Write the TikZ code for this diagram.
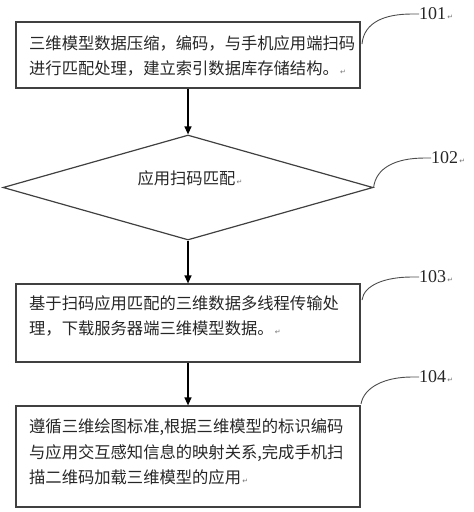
\documentclass[tikz,border=0pt]{standalone}
\usepackage{fontspec}
\setmainfont{Liberation Serif}
\newfontfamily\cjk{Noto Sans CJK SC}
\newfontfamily\symb{DejaVu Sans}
\usetikzlibrary{shapes.geometric,arrows.meta}
\newcommand{\retmark}{{\symb\fontsize{7pt}{7pt}\selectfont\color{black!55}\,↵}}
\begin{document}
\begin{tikzpicture}[x=1pt,y=-1pt,
  boxstyle/.style={draw=black!75,line width=1.2pt,rectangle,inner sep=0,minimum width=344pt},
  decstyle/.style={draw=black!75,line width=1.2pt,diamond,inner sep=0,minimum width=370pt,minimum height=105pt},
  bodytext/.style={font=\cjk\fontsize{16.3pt}{25.5pt}\selectfont,align=left,anchor=north west,inner sep=0,text=black!85},
  flow/.style={draw=black,line width=1.3pt,-{Triangle[length=8pt,width=7pt]}},
  leader/.style={draw=black!70,line width=0.9pt},
  numlabel/.style={font=\fontsize{18pt}{18pt}\selectfont,anchor=west,inner sep=0,text=black!85}]
\useasboundingbox (0,0) rectangle (474,512);
% boxes
\node[boxstyle,minimum height=66pt] (b1) at (188,55) {};
\node[decstyle] (d2) at (188,187.5) {};
\node[boxstyle,minimum height=78pt] (b3) at (188,323) {};
\node[boxstyle,minimum height=101pt] (b4) at (188,456.5) {};
% texts
\node[bodytext] (t1) at (29,35) {三维模型数据压缩，编码，与手机应用端扫码\\进行匹配处理，建立索引数据库存储结构。\retmark};
\node[font=\cjk\fontsize{16.3pt}{20pt}\selectfont,inner sep=0,text=black!85] (t2) at (190,178) {应用扫码匹配\retmark};
\node[bodytext] (t3) at (29,295) {基于扫码应用匹配的三维数据多线程传输处\\理，下载服务器端三维模型数据。\retmark};
\node[bodytext] (t4) at (29,419) {遵循三维绘图标准,根据三维模型的标识编码\\与应用交互感知信息的映射关系,完成手机扫\\描二维码加载三维模型的应用\retmark};
% connectors
\draw[flow] (b1.south) -- (d2.north);
\draw[flow] (d2.south) -- (b3.north);
\draw[flow] (b3.south) -- (b4.north);
% reference labels
\node[numlabel] (n1) at (419,14) {101\retmark};
\node[numlabel] (n2) at (431,158) {102\retmark};
\node[numlabel] (n3) at (419,277) {103\retmark};
\node[numlabel] (n4) at (419,377) {104\retmark};
\coordinate (c1) at (362,44);
\coordinate (c3) at (362,300);
\coordinate (c4) at (361,404);
\draw[leader] (c1) .. controls (364,22) and (385,14) .. (412,14) -- (n1.west);
\draw[leader] (d2.east) .. controls (376,168) and (395,158) .. (425,158) -- (n2.west);
\draw[leader] (c3) .. controls (364,285) and (385,277) .. (412,277) -- (n3.west);
\draw[leader] (c4) .. controls (364,387) and (385,377) .. (412,377) -- (n4.west);
\end{tikzpicture}
\end{document}
